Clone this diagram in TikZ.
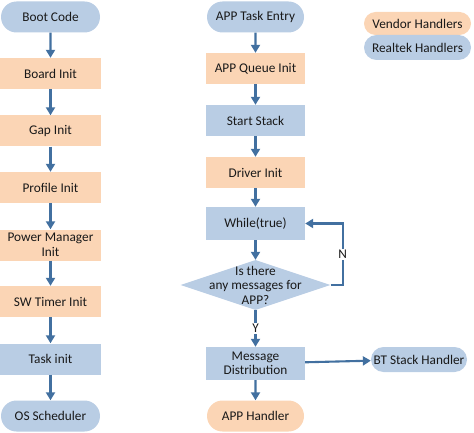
\documentclass[tikz,border=0pt]{standalone}
\usepackage{fontspec}
\setmainfont{Carlito}
\usetikzlibrary{arrows.meta,shapes.geometric,shapes.misc}

\definecolor{vendor}{RGB}{251,213,181}
\definecolor{realtek}{RGB}{185,205,228}
\definecolor{flow}{RGB}{66,112,160}

\begin{document}
\begin{tikzpicture}[x=1pt,y=-1pt,
    box/.style={minimum width=101pt,minimum height=31pt,inner sep=1pt,align=center,
      text=black!90,font=\fontsize{13.3}{14.5}\selectfont},
    ven/.style={box,fill=vendor},
    rtk/.style={box,fill=realtek},
    pill/.style={rounded rectangle},
    flowarrow/.style={draw=flow,line width=2.1pt,-{Triangle[width=9pt,length=8pt]}}]
  \useasboundingbox (0,0) rectangle (474,433);

  % boot sequence
  \node[rtk,pill] (boot) at (50.5,17) {Boot Code};
  \node[ven] (board) at (50.5,73.5) {Board Init};
  \node[ven] (gap) at (50.5,131) {Gap Init};
  \node[ven] (profile) at (50.5,187.5) {Profile Init};
  \node[ven] (power) at (50.5,245) {Power Manager\\Init};
  \node[ven] (timer) at (50.5,301.5) {SW Timer Init};
  \node[rtk] (task) at (50.5,359) {Task init};
  \node[rtk,pill] (sched) at (50.5,416) {OS Scheduler};

  % app task
  \node[rtk,pill,minimum width=99pt] (entry) at (255.5,17) {APP Task Entry};
  \node[ven,minimum width=99pt] (queue) at (255.5,68.5) {APP Queue Init};
  \node[rtk,minimum width=99pt] (stack) at (255.5,120.5) {Start Stack};
  \node[ven,minimum width=99pt] (driver) at (255.5,172.5) {Driver Init};
  \node[rtk,minimum width=99pt,minimum height=33pt] (while) at (255.5,223.5) {While(true)};
  \node[diamond,fill=realtek,aspect=3,minimum width=150pt,minimum height=50pt,inner sep=0pt,
    label={[box,minimum width=0pt,minimum height=0pt]center:Is there\\any messages for\\APP?}]
    (ask) at (255.5,285) {};
  \node[rtk,minimum width=99pt,minimum height=33pt] (msg) at (255.5,363.5) {Message\\Distribution};
  \node[ven,pill,minimum width=99pt] (apph) at (255.5,416) {APP Handler};
  \node[rtk,pill,minimum width=98pt,minimum height=25pt] (bt) at (419,359.5) {BT Stack Handler};

  % legend
  \node[ven,pill,minimum width=109pt,minimum height=23pt] (legven) at (417.5,23.5) {Vendor Handlers};
  \node[rtk,pill,minimum width=109pt,minimum height=25pt] (legrtk) at (417.5,47.5) {Realtek Handlers};

  \foreach \a/\b in {boot/board,board/gap,gap/profile,profile/power,power/timer,timer/task,task/sched,
                     entry/queue,queue/stack,stack/driver,driver/while,while/ask,msg/apph,msg/bt}
    \draw[flowarrow] (\a) -- (\b);

  \draw[flowarrow] (ask.east) -- ++(12,0) |- (while.east)
    node[pos=0.25,fill=white,inner sep=1pt,text=black!90,font=\fontsize{13.3}{14.5}\selectfont] {N};
  \draw[flowarrow] (ask) -- (msg)
    node[midway,fill=white,inner sep=1pt,text=black!90,font=\fontsize{13.3}{14.5}\selectfont] {Y};
\end{tikzpicture}
\end{document}
